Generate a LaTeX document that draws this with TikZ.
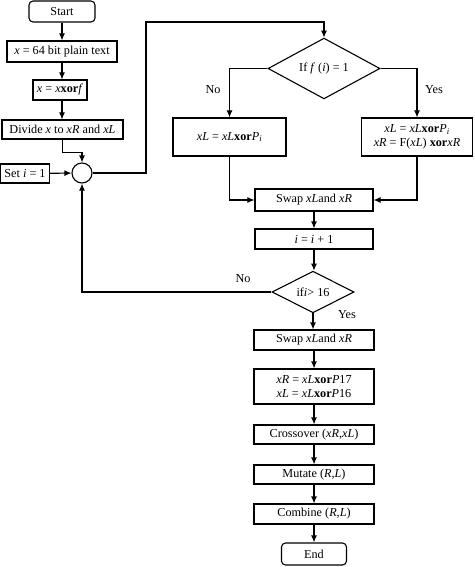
\documentclass[tikz,border=0pt]{standalone}
\usepackage{fontspec}
\setmainfont{Liberation Serif}
\usetikzlibrary{arrows.meta, positioning, shapes.geometric, calc}

\begin{document}
\begin{tikzpicture}[
  x=1pt, y=-1pt,
  font=\fontsize{12.2}{14}\selectfont,
  block/.style={draw, line width=1.1pt, align=center, inner sep=1pt, minimum height=20pt},
  term/.style={draw, rounded corners=4pt, line width=1.1pt, align=center, inner sep=1pt},
  decision/.style={draw, diamond, line width=1.1pt, inner sep=0pt, align=center},
  joint/.style={draw, circle, line width=1.1pt, minimum size=20pt, inner sep=0pt},
  arrow/.style={-{Latex[length=7pt, width=6pt]}, line width=1.1pt},
  lbl/.style={inner sep=1pt}
]
\useasboundingbox (0,0) rectangle (474,567);

\node[term, minimum width=66pt, minimum height=21pt] (start) at (62,11.5) {Start};
\node[block, minimum width=110pt, minimum height=21pt] (plain) at (62,51.5) {\textit{x} = 64 bit plain text};
\node[block, minimum width=54pt] (xorf) at (60,90) {\textit{x} = \textit{x}\textbf{xor}\textit{f}};
\node[block, minimum width=121pt, minimum height=19pt] (divide) at (62.5,129.5) {Divide \textit{x} to \textit{xR} and \textit{xL}};
\node[block, minimum width=49pt, minimum height=19pt] (seti) at (25,173.5) {Set \textit{i} = 1};
\node[joint] (join) at (82,173) {};

\node[decision, minimum width=112pt, minimum height=41pt] (fcheck) at (324,68.5) {If \textit{f} (\textit{i}) = 1};
\node[block, minimum width=113pt, minimum height=38pt] (nobox) at (229.5,137) {\textit{xL} = \textit{xL}\textbf{xor}\textit{P\textsubscript{i}}};
\node[block, minimum width=111pt, minimum height=38pt] (yesbox) at (417,137) {\textit{xL} = \textit{xL}\textbf{xor}\textit{P\textsubscript{i}}\\\textit{xR} = F(\textit{xL}) \textbf{xor}\textit{xR}};
\node[block, minimum width=118pt, minimum height=22pt] (swapa) at (314,200) {Swap \textit{xL}and \textit{xR}};
\node[block, minimum width=118pt] (inc) at (314,239) {\textit{i} = \textit{i} + 1};
\node[decision, minimum width=82pt, minimum height=40pt] (icheck) at (313,292) {if\textit{i}> 16};

\node[block, minimum width=120pt] (swapb) at (314,340) {Swap \textit{xL}and \textit{xR}};
\node[block, minimum width=120pt, minimum height=35pt] (final) at (314,386.5) {\textit{xR} = \textit{xL}\textbf{xor}\textit{P}17\\\textit{xL} = \textit{xL}\textbf{xor}\textit{P}16};
\node[block, minimum width=120pt, minimum height=19pt] (cross) at (314,434.5) {Crossover (\textit{xR},\textit{xL})};
\node[block, minimum width=120pt, minimum height=19pt] (mutate) at (314,474.5) {Mutate (\textit{R},\textit{L})};
\node[block, minimum width=120pt] (combine) at (314,514) {Combine (\textit{R},\textit{L})};
\node[term, minimum width=65pt, minimum height=22pt] (stop) at (314,554) {End};

\coordinate (up) at (146,22);

\draw[arrow] (start) -- (plain);
\draw[arrow] (plain.south) -- (plain.south |- xorf.north);
\draw[arrow] (plain.south |- xorf.south) -- (plain.south |- divide.north);
\draw[arrow] (divide.south) -- ++(0,13) -| (join.north);
\draw[arrow] (seti) -- (join);
\draw[arrow] (join.east) -| (up) -| (fcheck.north);

\draw[arrow] (fcheck.west) -| (nobox.north);
\draw[arrow] (fcheck.east) -| (yesbox.north);
\node[lbl] (nolbla) at (213,90) {No};
\node[lbl] (yeslbla) at (434,90) {Yes};
\draw[arrow] (nobox.south) |- (swapa.west);
\draw[arrow] (yesbox.south) |- (swapa.east);
\draw[arrow] (swapa) -- (inc);
\draw[arrow] (inc.south) -- (inc.south |- icheck.north);
\draw[arrow] (icheck.west) -| (join.south);
\node[lbl] (nolblb) at (243,279) {No};
\draw[arrow] (icheck.south) -- (icheck.south |- swapb.north);
\node[lbl] (yeslblb) at (347,315) {Yes};

\draw[arrow] (swapb) -- (final);
\draw[arrow] (final) -- (cross);
\draw[arrow] (cross) -- (mutate);
\draw[arrow] (mutate) -- (combine);
\draw[arrow] (combine) -- (stop);
\end{tikzpicture}
\end{document}
